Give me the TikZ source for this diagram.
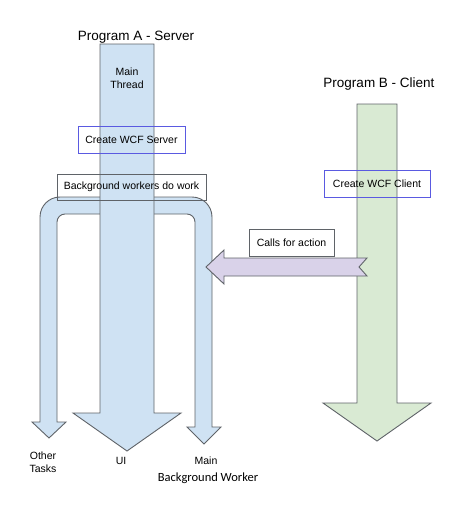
\documentclass[tikz,border=0pt]{standalone}
\usepackage{fontspec}
\setmainfont{Liberation Sans}
\newfontfamily\calibrifont{Carlito}
\definecolor{threadblue}{RGB}{207,226,243}
\definecolor{clientgreen}{RGB}{217,234,211}
\definecolor{callpurple}{RGB}{217,210,233}
\definecolor{edgegray}{RGB}{95,99,104}
\definecolor{boxblue}{RGB}{90,90,225}
\tikzset{
    flow/.style={draw=edgegray, line width=0.9pt, line join=miter},
    stepbox/.style={draw=boxblue, line width=0.9pt, minimum height=27pt, font=\fontsize{10.5}{12}\selectfont},
    plainbox/.style={draw=edgegray, line width=0.9pt, fill=none, minimum height=26pt, font=\fontsize{10.5}{12}\selectfont},
    caption/.style={font=\fontsize{10.5}{12.5}\selectfont, align=center}
}
\begin{document}
\begin{tikzpicture}[x=1pt, y=-1pt]
        % Setup the frame
        \useasboundingbox (0,0) rectangle (474,506);

        % Background worker fork (behind the main thread)
        \draw[flow, fill=threadblue] (57,422) -- (66,422) -- (49,438) -- (32,422) -- (40,422)
            -- (40,217) arc[start angle=180, end angle=270, radius=20]
            -- (192,197) arc[start angle=270, end angle=360, radius=20]
            -- (212,427) -- (221,427) -- (204,444) -- (187,427) -- (195,427)
            -- (195,222) arc[start angle=0, end angle=-90, radius=8]
            -- (65,214) arc[start angle=270, end angle=180, radius=8]
            -- cycle;

        % Main thread of program A
        \draw[flow, fill=threadblue] (100,44) -- (154,44) -- (154,413) -- (181,413)
            -- (127,451) -- (73,413) -- (100,413) -- cycle;

        % Program B thread
        \draw[flow, fill=clientgreen] (357,104) -- (397,104) -- (397,403) -- (431,403)
            -- (377,441) -- (323,403) -- (357,403) -- cycle;

        % Calls from B to A
        \draw[flow, fill=callpurple] (367,258) -- (359,267) -- (367,276) -- (224,276)
            -- (224,284) -- (206,267) -- (224,250) -- (224,258) -- cycle;

        % Titles
        \node[font=\fontsize{13.5}{16}\selectfont] (titleA) at (136,37) {Program A - Server};
        \node[font=\fontsize{13.5}{16}\selectfont] (titleB) at (379,84) {Program B - Client};
        \node[caption] (mainthread) at (127,78) {Main\\Thread};

        % Steps
        \node[stepbox, minimum width=107pt] (createserver) at (131.5,139.5) {Create WCF Server};
        \node[stepbox, minimum width=106pt] (createclient) at (377,183.5) {Create WCF Client};
        \node[plainbox, minimum width=149pt] (bgwork) at (131.5,187) {Background workers do work};
        \node[plainbox, minimum width=85pt, minimum height=27pt] (calls) at (291.5,242.5) {Calls for action};

        % Branch labels
        \node[caption] (othertasks) at (43,462) {Other\\Tasks};
        \node[caption] (ui) at (121,461) {UI};
        \node[caption] (mainbg) at (206,461) {Main};
        \node[font=\calibrifont\fontsize{12.5}{14}\selectfont] (bgworker) at (208,478) {Background Worker};
\end{tikzpicture}
\end{document}
